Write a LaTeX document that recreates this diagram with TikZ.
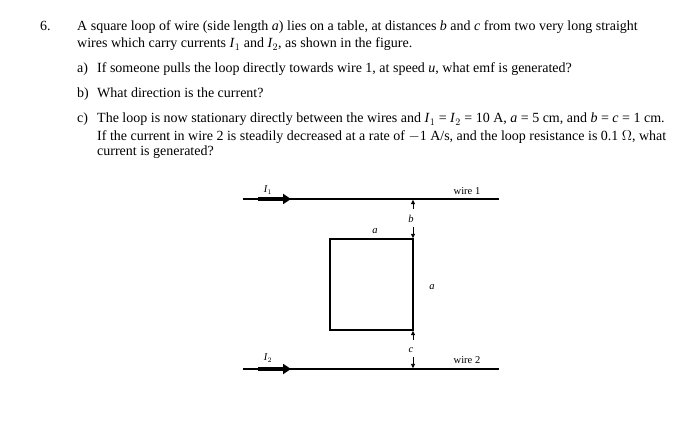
\documentclass[tikz,border=0pt]{standalone}
\usepackage{fontspec}
\setmainfont{Liberation Serif}
\usetikzlibrary{arrows.meta}
\begin{document}
\begin{tikzpicture}[x=1pt,y=-1pt,
  txt/.style={anchor=base west,inner sep=0,font=\fontsize{14}{16}\selectfont},
  lbl/.style={inner sep=0,font=\fontsize{10.5}{12}\selectfont},
  wire/.style={line width=1.4pt},
  cur/.style={line width=3.5pt,-{Triangle[length=8pt,width=10pt]}},
  dim/.style={line width=0.9pt,-{Triangle[length=4.5pt,width=4pt]}}]
\useasboundingbox (0,0) rectangle (700,422);
\node[txt] (n) at (40,31) {6.};
\node[txt] (l1) at (77,31) {A square loop of wire (side length \textit{a}) lies on a table, at distances \textit{b} and \textit{c} from two very long straight};
\node[txt] (l2) at (77,48) {wires which carry currents \textit{I}$_1$ and \textit{I}$_2$, as shown in the figure.};
\node[txt] (qa) at (77,73) {a)};
\node[txt] (ta) at (97,73) {If someone pulls the loop directly towards wire 1, at speed \textit{u}, what emf is generated?};
\node[txt] (qb) at (77,98) {b)};
\node[txt] (tb) at (97,98) {What direction is the current?};
\node[txt] (qc) at (77,123) {c)};
\node[txt] (tc1) at (97,123) {The loop is now stationary directly between the wires and \textit{I}$_1$ = \textit{I}$_2$ = 10 A, \textit{a} = 5 cm, and \textit{b} = \textit{c} = 1 cm.};
\node[txt] (tc2) at (97,140) {If the current in wire 2 is steadily decreased at a rate of $-$1 A/s, and the loop resistance is 0.1 $\Omega$, what};
\node[txt] (tc3) at (97,156) {current is generated?};
% wires
\coordinate (w1a) at (243,199); \coordinate (w1b) at (499,199);
\coordinate (w2a) at (243,369); \coordinate (w2b) at (499,369);
\draw[wire] (w1a) -- (w1b);
\draw[wire] (w2a) -- (w2b);
\coordinate (i1s) at (258,199); \coordinate (i1e) at (291,199);
\coordinate (i2s) at (258,369); \coordinate (i2e) at (291,369);
\draw[cur] (i1s) -- (i1e);
\draw[cur] (i2s) -- (i2e);
% loop
\node[draw,line width=1.3pt,minimum width=83pt,minimum height=91pt,inner sep=0] (loop) at (371.5,284.5) {};
% dimension arrows
\coordinate (b1) at (413,209); \coordinate (b2) at (413,199.7);
\coordinate (b3) at (413,227); \coordinate (b4) at (413,238.3);
\coordinate (c1) at (413,340); \coordinate (c2) at (413,330.7);
\coordinate (c3) at (413,357); \coordinate (c4) at (413,368.3);
\draw[dim] (b1) -- (b2);
\draw[dim] (b3) -- (b4);
\draw[dim] (c1) -- (c2);
\draw[dim] (c3) -- (c4);
\node[lbl] (I1) at (268,190) {\textit{I}$_1$};
\node[lbl] (I2) at (268,358) {\textit{I}$_2$};
\node[lbl] (W1) at (467,191) {wire 1};
\node[lbl] (W2) at (467,360) {wire 2};
\node[lbl] (lb) at (411,219) {\textit{b}};
\node[lbl] (lc) at (411,350) {\textit{c}};
\node[lbl] (la1) at (375,231) {\textit{a}};
\node[lbl] (la2) at (432,287) {\textit{a}};
\end{tikzpicture}
\end{document}
